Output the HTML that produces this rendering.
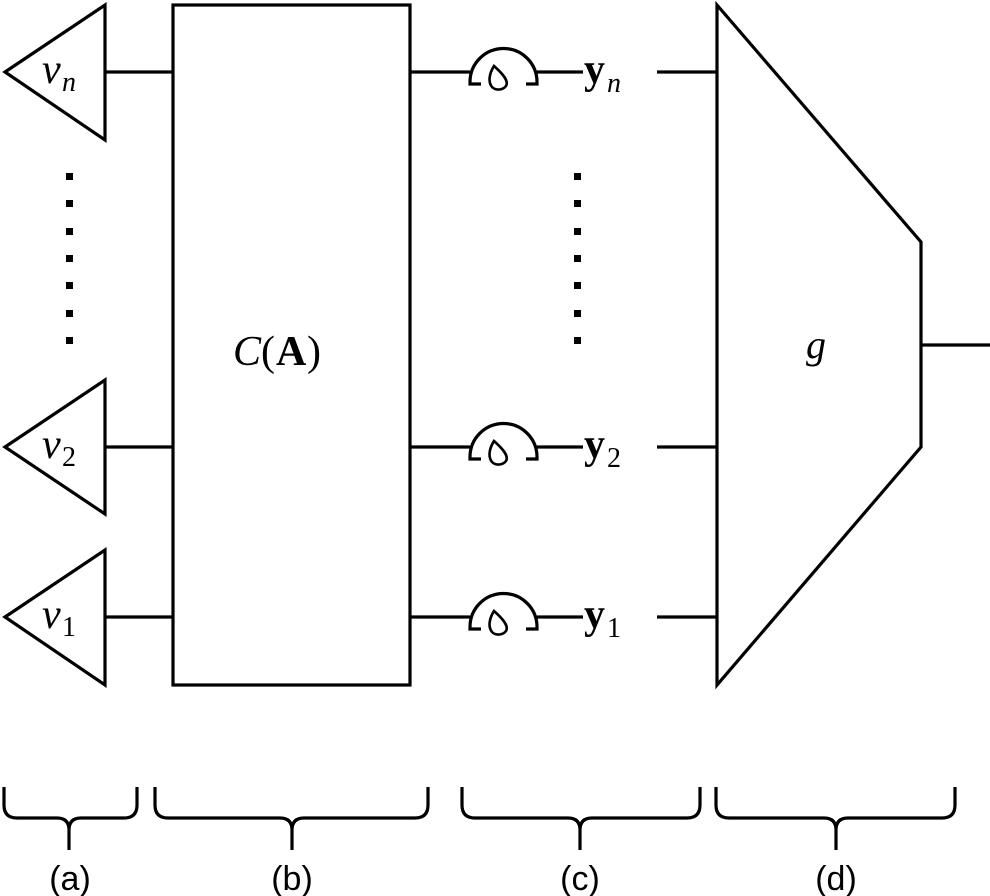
<!DOCTYPE html>
<html><head><meta charset="utf-8"><style>
html,body{margin:0;padding:0;background:#fff;}
svg{display:block}
text{font-family:"Liberation Serif",serif;fill:#000}
.l{font-family:"Liberation Sans",sans-serif;font-size:34px}
</style></head><body>
<svg width="990" height="896" viewBox="0 0 990 896" xmlns="http://www.w3.org/2000/svg">
<g fill="none" stroke="#000" stroke-width="3.2" stroke-linejoin="miter">
<polygon points="5,72 105,5 105,140"/>
<polygon points="5,447 105,380 105,514"/>
<polygon points="5,617 105,550 105,685"/>
<line x1="105" y1="72" x2="173" y2="72"/>
<line x1="105" y1="447" x2="173" y2="447"/>
<line x1="105" y1="617" x2="173" y2="617"/>
<rect x="173" y="5" width="237" height="680"/>
<polygon points="717,5 921,242 921,447 717,685"/>
<line x1="921" y1="345" x2="990" y2="345"/>
<g id="m">
<line x1="410" y1="72" x2="470" y2="72"/>
<path d="M481,84 H470 V82 A33.5,33.5 0 0 1 537,82 V84 H526"/>
<path d="M494,66 C489,74 488,82 492,87 C496,91 503,90 506,86 C509,81 503,74 494,66 Z" stroke-width="2.6"/>
<line x1="537" y1="72" x2="583" y2="72"/>
<line x1="657" y1="72" x2="717" y2="72"/>
</g>
<use href="#m" transform="translate(0,375)"/>
<use href="#m" transform="translate(0,545)"/>
<path d="M4,787 V805 Q4,818 17,818 H57 Q69,818 69,830 V850 M69,830 Q69,818 81,818 H124 Q137,818 137,805 V787"/>
<path d="M155,787 V805 Q155,818 168,818 H280 Q292,818 292,830 V850 M292,830 Q292,818 304,818 H415 Q428,818 428,805 V787"/>
<path d="M462,787 V805 Q462,818 475,818 H568 Q580,818 580,830 V850 M580,830 Q580,818 592,818 H687 Q700,818 700,805 V787"/>
<path d="M716,787 V805 Q716,818 729,818 H824 Q836,818 836,830 V850 M836,830 Q836,818 848,818 H942 Q955,818 955,805 V787"/>
</g>
<g fill="#000">
<rect x="66" y="173" width="7" height="7"/><rect x="66" y="200" width="7" height="7"/><rect x="66" y="228" width="7" height="7"/><rect x="66" y="255" width="7" height="7"/><rect x="66" y="282" width="7" height="7"/><rect x="66" y="310" width="7" height="7"/><rect x="66" y="337" width="7" height="7"/>
<rect x="574" y="173" width="7" height="7"/><rect x="574" y="200" width="7" height="7"/><rect x="574" y="228" width="7" height="7"/><rect x="574" y="255" width="7" height="7"/><rect x="574" y="282" width="7" height="7"/><rect x="574" y="310" width="7" height="7"/><rect x="574" y="337" width="7" height="7"/>
</g>
<text x="42" y="83" font-size="42" font-style="italic">v</text><text x="62" y="91" font-size="28" font-style="italic">n</text>
<text x="42" y="458" font-size="42" font-style="italic">v</text><text x="62" y="466" font-size="28">2</text>
<text x="42" y="628" font-size="42" font-style="italic">v</text><text x="62" y="636" font-size="28">1</text>
<text x="584" y="83" font-size="42" font-weight="bold">y</text><text x="607" y="92" font-size="28" font-style="italic">n</text>
<text x="584" y="458" font-size="42" font-weight="bold">y</text><text x="607" y="467" font-size="28">2</text>
<text x="584" y="628" font-size="42" font-weight="bold">y</text><text x="607" y="637" font-size="28">1</text>
<text x="233" y="365" font-size="42" font-style="italic">C</text><text x="261" y="365" font-size="42">(</text><text x="276" y="365" font-size="42" font-weight="bold">A</text><text x="307" y="365" font-size="42">)</text>
<text x="806" y="358" font-size="40" font-style="italic">g</text>
<text class="l" x="70" y="890" text-anchor="middle">(a)</text>
<text class="l" x="292" y="890" text-anchor="middle">(b)</text>
<text class="l" x="580" y="890" text-anchor="middle">(c)</text>
<text class="l" x="836" y="890" text-anchor="middle">(d)</text>
</svg>
</body></html>
